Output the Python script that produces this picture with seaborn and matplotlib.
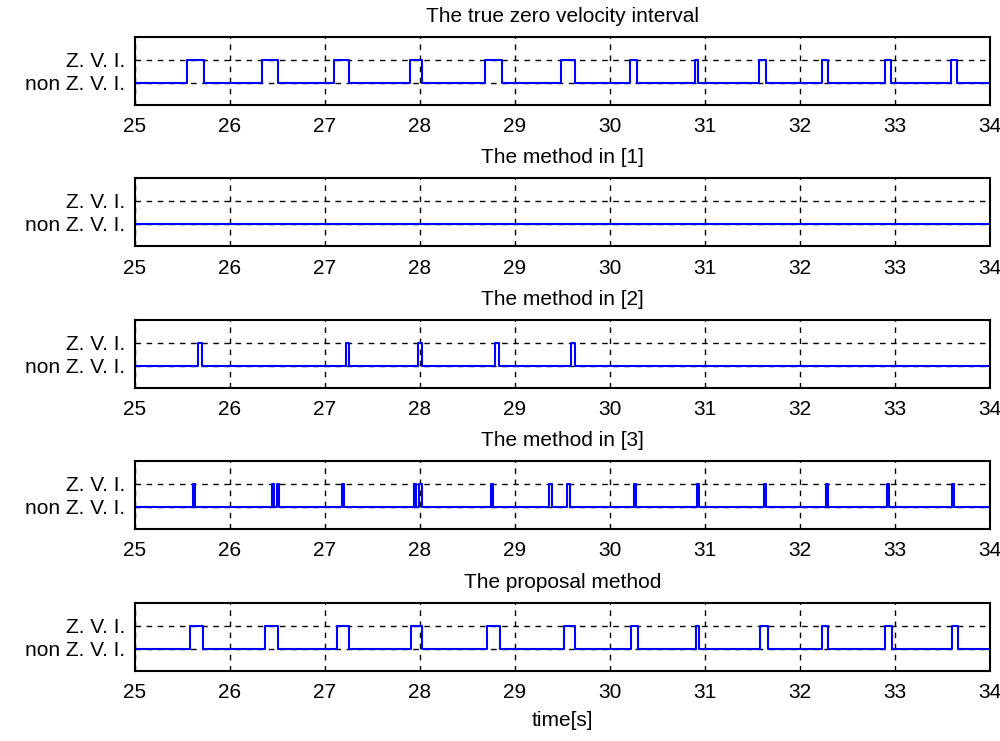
import numpy as np
import matplotlib
matplotlib.use("Agg")
import matplotlib.pyplot as plt
import seaborn as sns
import pandas as pd

sns.set_style("white")
plt.rcParams['font.family'] = ['Liberation Sans', 'DejaVu Sans']
plt.rcParams['text.color'] = 'black'
plt.rcParams['xtick.color'] = 'black'
plt.rcParams['ytick.color'] = 'black'
plt.rcParams['axes.labelcolor'] = 'black'

titles = ["The true zero velocity interval", "The method in [1]", "The method in [2]",
          "The method in [3]", "The proposal method"]
ytick_labels = ["non Z. V. I.", "Z. V. I."]
xticks = [25, 26, 27, 28, 29, 30, 31, 32, 33, 34]

true_starts = [25.55, 26.34, 27.09, 27.89, 28.68, 29.48, 30.21, 30.89, 31.57, 32.23, 32.89, 33.59]
true_ends   = [25.73, 26.50, 27.25, 28.02, 28.86, 29.63, 30.28, 30.93, 31.64, 32.30, 32.96, 33.65]
m1_starts = []
m1_ends = []
m2_starts = [25.66, 27.22, 27.98, 28.79, 29.59]
m2_ends   = [25.70, 27.25, 28.02, 28.83, 29.63]
m3_starts = [25.61, 26.44, 26.49, 27.18, 27.94, 27.99, 28.75, 29.36, 29.55, 30.25, 30.92, 31.62, 32.27, 32.92, 33.60]
m3_ends   = [25.63, 26.46, 26.52, 27.20, 27.96, 28.02, 28.77, 29.39, 29.58, 30.27, 30.94, 31.64, 32.29, 32.94, 33.62]
prop_starts = [25.58, 26.37, 27.13, 27.90, 28.70, 29.52, 30.22, 30.90, 31.58, 32.23, 32.89, 33.60]
prop_ends   = [25.72, 26.50, 27.25, 28.02, 28.84, 29.63, 30.29, 30.94, 31.66, 32.30, 32.97, 33.66]

series = [(true_starts, true_ends), (m1_starts, m1_ends), (m2_starts, m2_ends),
          (m3_starts, m3_ends), (prop_starts, prop_ends)]

def step_signal(starts, ends):
    xs, ys = [25.0], [0]
    for s, e in zip(starts, ends):
        xs += [s, s, e, e]
        ys += [0, 1, 1, 0]
    xs.append(34.0); ys.append(0)
    return pd.DataFrame({"t": xs, "v": ys, "i": range(len(xs))})

fig = plt.figure(figsize=(10, 7.41), dpi=100)
H = 741.0
tops = [37, 178, 320, 461, 603]
for k, (title, (s, e)) in enumerate(zip(titles, series)):
    top = tops[k]
    ax = fig.add_axes([0.135, 1 - (top + 68) / H, 0.855, 68 / H])
    df = step_signal(s, e)
    sns.lineplot(data=df, x="t", y="v", sort=False, estimator=None, color="#0000ff",
                 linewidth=1.5, ax=ax)
    ax.set_xlim(25, 34)
    ax.set_ylim(-0.96, 2.0)
    ax.set_xticks(xticks)
    ax.set_xticklabels([str(v) for v in xticks], fontsize=15)
    ax.set_yticks([0, 1])
    ax.set_yticklabels(ytick_labels, fontsize=15)
    ax.grid(True, color="black", linestyle=(0, (4, 4)), linewidth=1)
    ax.set_axisbelow(True)
    ax.tick_params(axis="x", length=0, pad=9)
    ax.tick_params(axis="y", length=0, pad=7)
    for sp in ax.spines.values():
        sp.set_color("black"); sp.set_linewidth(1.5)
    ax.set_title(title, fontsize=15, pad=11)
    ax.set_ylabel("")
    ax.set_xlabel("time[s]" if k == 4 else "", fontsize=15, labelpad=6)

fig.savefig("out.png", dpi=100)
